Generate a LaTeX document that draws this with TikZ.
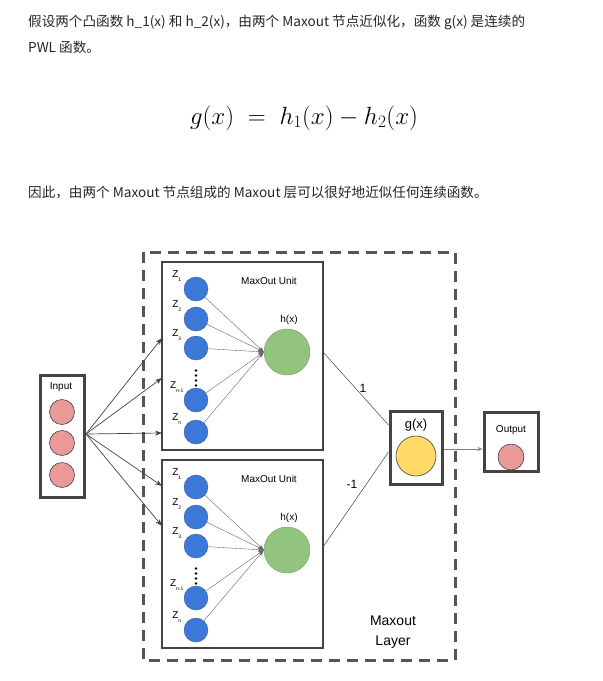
\documentclass[tikz,border=0pt]{standalone}
\usepackage{fontspec}
\setmainfont{Liberation Sans}
\newfontfamily\cjk{Noto Sans CJK SC}
\usetikzlibrary{arrows.meta}
\definecolor{zblue}{HTML}{3C78D8}
\definecolor{hgreen}{HTML}{93C47D}
\definecolor{gyellow}{HTML}{FFD966}
\definecolor{ipink}{HTML}{EA9999}
\definecolor{frame}{HTML}{434343}
\begin{document}
\begin{tikzpicture}[x=1pt,y=-1pt,
  txt/.style={font=\cjk\fontsize{13.6}{16}\selectfont,text=black!85,anchor=west,inner sep=0},
  box/.style={draw=frame,line width=1.3pt},
  thick box/.style={draw=frame,line width=3pt},
  zc/.style={circle,fill=zblue,draw=zblue!70!black,line width=0.3pt,minimum size=24pt,inner sep=0},
  pc/.style={circle,fill=ipink,draw=frame,line width=0.6pt,minimum size=25pt,inner sep=0},
  lbl/.style={font=\fontsize{10}{12}\selectfont,inner sep=0},
  zl/.style={font=\fontsize{10}{12}\selectfont,inner sep=0},
  con/.style={draw=gray!80!black,line width=0.4pt,-{Stealth[length=6pt,width=4pt]}},
  ar/.style={draw=frame,line width=0.7pt,-{Stealth[length=7pt,width=5pt]}}]
\useasboundingbox (0,0) rectangle (603,681);
\node[txt] (t1) at (28,22) {假设两个凸函数 h\_1(x) 和 h\_2(x)，由两个 Maxout 节点近似化，函数 g(x) 是连续的};
\node[txt] (t2) at (28,47) {PWL 函数。};
\node[font=\fontsize{26}{30}\selectfont,inner sep=0] (eq) at (304,118) {$g(x) \;=\; h_1(x) - h_2(x)$};
\node[txt] (t3) at (28,192) {因此，由两个 Maxout 节点组成的 Maxout 层可以很好地近似任何连续函数。};
% dashed layer
\draw[draw=frame!90,line width=3pt,dash pattern=on 11pt off 7pt] (143,252) rectangle (455,660);
\node[font=\fontsize{14}{20}\selectfont,align=center,inner sep=0] (ml) at (393,632) {Maxout\\Layer};
% input
\node[thick box,minimum width=44pt,minimum height=122pt,inner sep=0] (inp) at (62,436) {};
\node[lbl] (inl) at (61,387) {Input};
\node[pc] (i1) at (62,412) {};
\node[pc] (i2) at (62,443) {};
\node[pc] (i3) at (62,475) {};
\coordinate (io) at (86,434);
% units
\foreach \u/\oy in {a/0,b/198}{
  \node[box,minimum width=161pt,minimum height=188pt,inner sep=0] (u\u) at (242.5,356+\oy) {};
  \node[lbl] (ut\u) at (269,281+\oy) {MaxOut Unit};
  \node[lbl] (hl\u) at (289,320+\oy) {h(x)};
  \node[circle,fill=hgreen,draw=hgreen!80!black,line width=0.4pt,minimum size=46pt,inner sep=0] (h\u) at (287,352+\oy) {};
  \foreach \i/\y/\s in {1/289/1,2/319/2,3/348/3,4/400/{n-1},5/432/n}{
    \node[zc] (z\u\i) at (196,\y+\oy) {};
    \node[zl] (zl\u\i) at (177,\y-13+\oy) {Z\textsubscript{\raisebox{-2pt}{\fontsize{5}{5}\selectfont\s}}};
    \draw[con] (z\u\i) -- (h\u.west);
  }
  \foreach \d in {0,1,2,3}{\fill (196,370.5+\d*5+\oy) circle (1.3pt);}
}
% input arrows
\foreach \y in {338,378,433}{ \coordinate (ea\y) at (162,\y); \draw[ar] (io) -- (ea\y); }
\foreach \y in {486,526}{ \coordinate (eb\y) at (162,\y); \draw[ar] (io) -- (eb\y); }
% g box
\node[thick box,minimum width=52pt,minimum height=73pt,inner sep=0] (gb) at (416,447.5) {};
\node[font=\fontsize{13}{15}\selectfont,inner sep=0] (gl) at (416,425) {g(x)};
\node[circle,fill=gyellow,draw=frame,line width=0.6pt,minimum size=40pt,inner sep=0] (gc) at (416,456) {};
\coordinate (hao) at (323,352);
\coordinate (hbo) at (323,547);
\draw[draw=frame,line width=0.5pt] (hao) -- (gb.west |- 0,425);
\draw[draw=frame,line width=0.5pt] (hbo) -- (gb.west |- 0,452);
\node[font=\fontsize{12}{14}\selectfont,inner sep=0] (w1) at (363,388) {1};
\node[font=\fontsize{12}{14}\selectfont,inner sep=0] (w2) at (352,484) {-1};
% output
\node[thick box,minimum width=54pt,minimum height=59pt,inner sep=0] (ob) at (511,441.5) {};
\node[lbl] (ol) at (511,430) {Output};
\node[pc,minimum size=26pt] (oc) at (511,457) {};
\draw[draw=gray,line width=0.5pt,-{Stealth[length=5pt,width=4pt]}] (gb.east |- 0,449) -- (ob.west |- 0,449);
\end{tikzpicture}
\end{document}
